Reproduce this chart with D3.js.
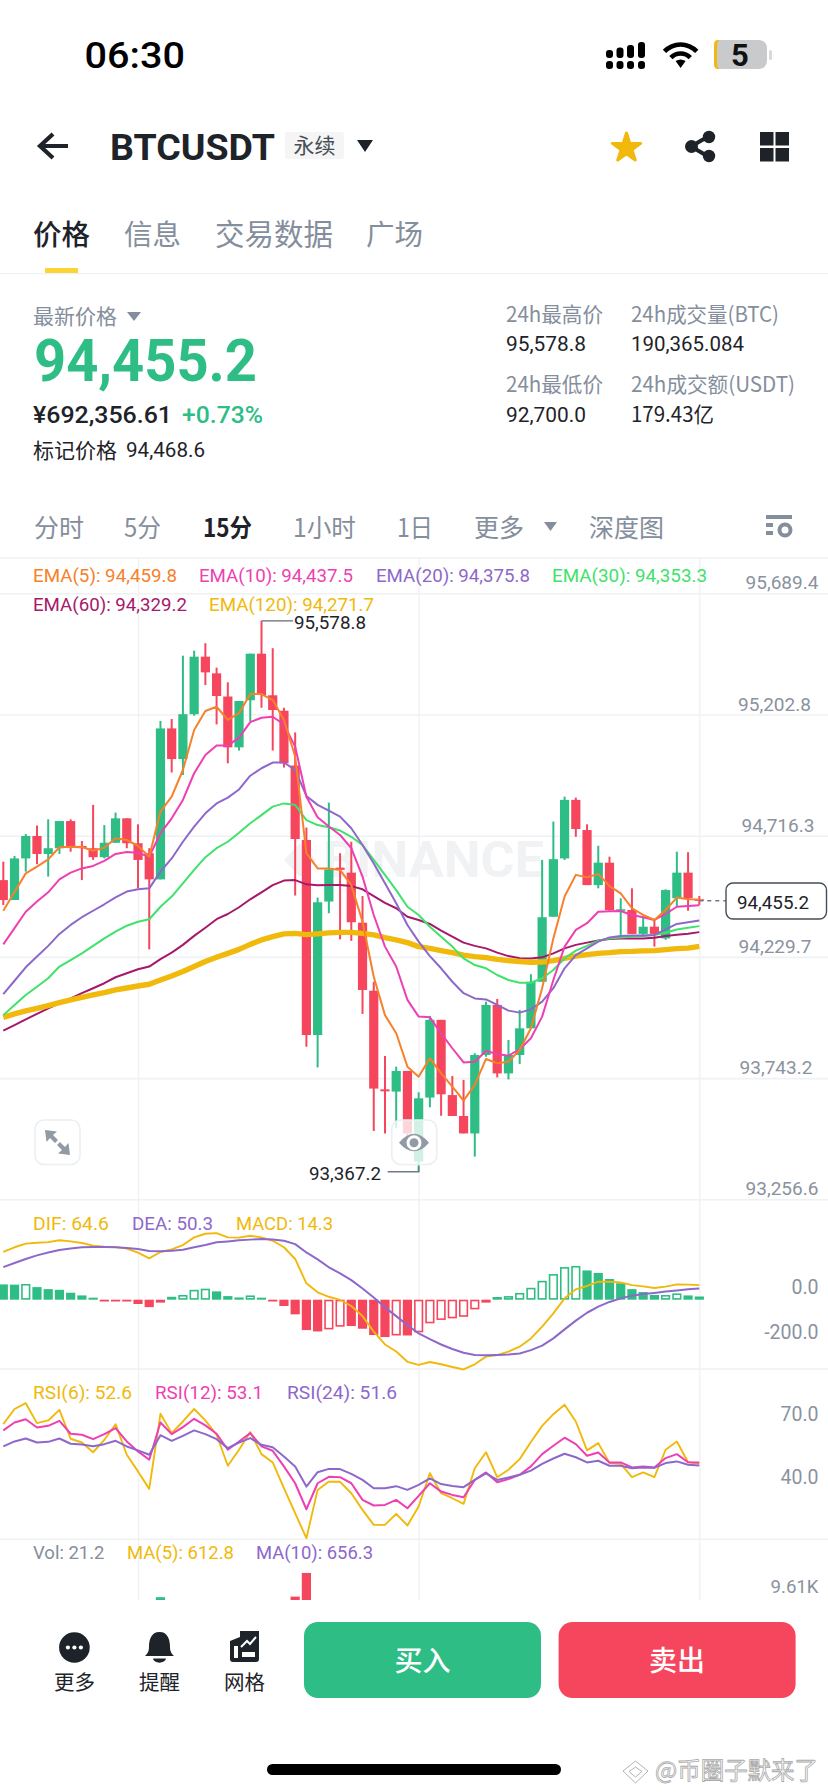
<!DOCTYPE html>
<html lang="zh">
<head>
<meta charset="utf-8">
<script src="https://cdn.jsdelivr.net/npm/d3@7"></script>
<style>
html,body{margin:0;padding:0;background:#fff;}
svg{display:block;}
</style>
</head>
<body>
<svg id="c" width="828" height="1792"></svg>
<script>
// ---------- data ----------
const opens=[94538,94458,94625,94715,94643,94666,94775,94675,94666,94630,
94688,94786,94686,94646,94541,95147,95024,95204,95435,95368,
95275,95071,95260,95447,95280,95218,94998,94699,93916,94452,
94588,94568,94367,94094,93698,93689,93772,93408,93665,93977,
93675,93591,93521,93836,94037,93762,93836,93943,94130,94391,
94625,94860,94739,94518,94608,94415,94418,94322,94351,94304,
94465,94568,94461];
const closes=[94458,94625,94715,94643,94666,94775,94672,94666,94630,94688,
94786,94686,94619,94541,95147,95024,95204,95435,95372,95277,
95071,95257,95447,95281,95221,95007,94703,93916,94449,94581,
94579,94369,94097,93701,93690,93772,93521,93662,93977,93678,
93591,93521,93836,94037,93762,93836,93943,94130,94389,94622,
94860,94743,94518,94608,94418,94421,94322,94351,94322,94498,
94568,94465,94455.2];
const highs=[94612,94635,94723,94757,94782,94775,94782,94695,94840,94759,
94809,94786,94762,94666,95177,95185,95439,95459,95489,95391,
95332,95257,95447,95578.8,95469,95230,95131,94749,94468,94849,
94646,94692,94474,94130,93832,93789,93772,93686,93993,93977,
93752,93736,93843,94050,94061,93896,94017,94160,94619,94773,
94873,94869,94762,94676,94632,94465,94505,94391,94378,94501,
94652,94650,94474];
const lows=[94438,94458,94572,94602,94552,94643,94652,94538,94619,94625,
94688,94666,94505,94260,94541,94970,94960,95198,95321,95163,
95007,95058,95174,95230,95058,94990,94476,93869,93786,94405,
94300,94294,94001,93531,93521,93542,93508,93367.2,93626,93592,
93591,93521,93428,93829,93746,93738,93800,93943,94130,94391,
94619,94712,94518,94505,94415,94318,94322,94311,94271,94298,
94431,94415,94438];
const ema5=[94415,94490,94565,94592,94621,94670,94672,94671,94656,94668,
94706,94699,94675,94632,94813,94873,94980,95141,95217,95234,
95181,95208,95285,95285,95261,95181,95034,94646,94585,94585,
94579,94518,94371,94150,93996,93923,93789,93749,93823,93762,
93709,93653,93716,93820,93803,93809,93856,93943,94104,94304,
94472,94559,94549,94563,94514,94485,94425,94398,94378,94418,
94468,94461,94459.8];
const ema10=[94280,94345,94411,94452,94489,94541,94568,94585,94595,94615,
94643,94651,94648,94632,94726,94786,94860,94967,95040,95078,
95078,95110,95172,95190,95194,95163,95074,94873,94790,94753,
94719,94666,94552,94398,94271,94191,94057,93990,93987,93923,
93863,93806,93809,93852,93840,93833,93859,93903,93990,94137,
94271,94338,94365,94411,94413,94414,94398,94389,94378,94402,
94431,94434,94437.5];
const ema20=[94080,94134,94188,94231,94274,94322,94358,94389,94415,94441,
94469,94492,94501,94505,94572,94625,94692,94753,94806,94846,
94869,94902,94957,94987,95010,95010,94980,94876,94840,94817,
94793,94746,94679,94605,94525,94445,94358,94291,94233,94184,
94130,94084,94063,94059,94037,94014,94006,94019,94050,94104,
94184,94237,94264,94291,94308,94314,94316,94316,94318,94340,
94362,94369,94375.8];
const ema30=[93996,94037,94077,94110,94144,94191,94217,94244,94274,94304,
94331,94355,94371,94381,94431,94472,94525,94579,94630,94666,
94692,94728,94766,94799,94833,94846,94840,94779,94759,94750,
94737,94712,94679,94619,94559,94498,94431,94398,94351,94311,
94271,94224,94197,94184,94157,94137,94126,94126,94144,94177,
94224,94255,94274,94295,94304,94308,94311,94314,94318,94327,
94340,94347,94353.3];
const ema60=[93934,93956,93979,94001,94023,94043,94063,94084,94104,94124,
94148,94164,94180,94191,94221,94247,94278,94314,94347,94381,
94402,94429,94461,94489,94518,94536,94538,94521,94517,94518,
94518,94514,94501,94474,94447,94425,94391,94378,94362,94335,
94311,94287,94274,94264,94247,94233,94224,94223,94228,94244,
94264,94278,94287,94296,94302,94304,94304,94304,94307,94314,
94319,94323,94329.2];
const ema120=[93987,94001,94013,94023,94034,94046,94057,94067,94077,94086,
94097,94105,94113,94120,94137,94153,94171,94191,94211,94228,
94244,94260,94280,94298,94311,94322,94324,94319,94322,94326,
94328,94328,94324,94318,94307,94298,94287,94271,94264,94255,
94247,94237,94231,94227,94220,94215,94211,94208,94209,94215,
94224,94233,94239,94244,94247,94251,94252,94254,94255,94259,
94263,94265,94271.7];
const dif=[213,233,249,253,256,264,259,252,240,236,
234,227,209,184,212,224,243,277,293,296,
277,276,284,277,262,233,181,73,33,13,
-1,-28,-73,-142,-199,-230,-276,-290,-277,-287,
-299,-310,-287,-253,-246,-231,-209,-172,-120,-61,
6,46,61,80,80,77,65,59,52,58,
68,67,64.6];
const dea=[145,163,181,197,210,221,228,233,234,234,
233,230,225,216,215,218,222,233,243,255,
259,264,267,270,268,262,247,210,179,144,
117,87,50,10,-34,-73,-113,-150,-175,-199,
-219,-236,-246,-247,-246,-244,-239,-224,-204,-172,
-132,-93,-58,-31,-10,6,18,25,30,36,
41,46,50.3];
const macd=[68,67,70,56,47,44,31,19,9,-6,
-6,-6,-19,-33,-13,13,21,44,49,37,
16,10,19,9,-6,-28,-65,-135,-141,-132,
-120,-117,-129,-157,-166,-159,-159,-145,-105,-90,
-83,-76,-43,-13,12,16,30,53,84,114,
145,150,130,119,92,73,47,34,21,21,
28,19,14.3];
const macdHollow=[2,16,17,18,22,29,30,35,37,38,39,40,41,42,45,46,47,48,49,50,51,59,60];
const rsi6=[71.5,78.8,81.6,72.0,73.3,78.4,64.5,62.7,58.0,64.0,
71.5,56.8,48.8,40.4,76.5,67.2,72.8,78.8,73.3,66.4,
51.5,59.2,67.7,57.1,53.1,40.7,28.7,16.7,39.9,43.9,
43.8,38.3,30.3,23.1,23.1,28.4,22.8,31.9,47.9,38.3,
35.9,33.2,50.3,58.0,46.0,49.6,54.7,62.9,70.7,76.3,
80.8,72.8,58.9,62.4,52.8,52.4,46.0,48.3,46.0,59.2,
63.2,53.2,52.6];
const rsi12=[68.5,72.3,73.9,69.9,70.7,73.1,66.9,66.4,64.3,66.7,
69.6,63.2,58.4,54.4,72.3,66.7,70.1,74.1,70.9,66.9,
59.2,63.2,67.2,60.8,58.7,51.2,43.1,30.6,43.1,46.2,
46.0,43.1,35.1,32.4,32.7,35.1,31.1,37.0,43.1,39.1,
37.5,36.4,44.7,48.3,43.6,45.1,47.2,51.2,57.1,61.1,
65.0,61.9,56.3,57.9,53.1,53.1,50.7,51.2,50.7,55.2,
57.1,53.2,53.1];
const rsi24=[60.8,63.2,64.6,62.7,63.0,64.6,62.1,61.7,60.9,61.9,
63.5,60.8,58.9,56.8,66.2,63.5,65.9,68.5,66.7,64.3,
60.0,62.7,64.8,61.6,60.4,56.0,51.2,41.5,48.4,50.0,
49.9,47.6,44.7,40.7,40.7,41.7,39.9,42.3,45.4,42.7,
41.8,41.2,44.7,47.9,44.7,45.9,47.2,49.2,52.4,55.0,
57.3,55.6,53.1,53.9,51.5,51.5,50.3,50.7,50.5,52.8,
53.6,52.0,51.6];
// only the volume bars that rise above the clipped edge of the panel are visible
const volIndex=[14,26,27];
const volValues=[9680,9730,11780];
const volSide=[1,-1,-1];
const priceTicks=[95689.4,95202.8,94716.3,94229.7,93743.2,93256.6];
const priceTickLabels=["95,689.4","95,202.8","94,716.3","94,229.7","93,743.2","93,256.6"];
const macdTicks=[0,-200];
const macdTickLabels=["0.0","-200.0"];
const rsiTicks=[70,40];
const rsiTickLabels=["70.0","40.0"];
const timeTicks=[12,37,62];
const lastPrice=94455.2, highIdx=23, lowIdx=37;

// ---------- colours & helpers ----------
const UP="#2ebd85",DOWN="#f6465d",DARK="#1e2329",GRAY="#848e9c",GRID="#f0f1f3",
  GOLD="#f0b90b",PURPLE="#8d68cb",PINK="#ee3fb3",ORANGE="#f7812a",LIME="#3fe26b",WINE="#a6196a";
const FONT="Roboto,'Noto Sans CJK SC',sans-serif", CJK="'Noto Sans CJK SC',Roboto,sans-serif";
const svg=d3.select("#c");
function t(g,x,y,s,o={}){
  const e=g.append("text").attr("x",x).attr("y",o.font===CJK?y-1.8:y).text(s)
    .attr("dominant-baseline","central")
    .attr("font-family",o.font||FONT).attr("font-size",o.size||19)
    .attr("font-weight",o.weight||400).attr("fill",o.color||GRAY)
    .attr("text-anchor",o.anchor||"start");
  if(o.w) e.attr("textLength",o.w).attr("lengthAdjust","spacingAndGlyphs");
  return e;
}
const idx=d3.range(opens.length);
const x=d3.scaleLinear().domain([0,62]).range([3.3,699.3]);
const yP=d3.scaleLinear().domain([95689.4,93256.6]).range([593.3,1199.3]);
const yM=d3.scaleLinear().domain([0,-200]).range([1299.7,1344.7]);
const yR=d3.scaleLinear().domain([70,40]).range([1427.3,1489.7]);
const yV=d3.scaleLinear().domain([0,9610]).range([1709,1598]);

// ---------- grid ----------
const grid=svg.append("g");
function hgrid(scale,vals){
  const a=grid.append("g").call(d3.axisRight(scale).tickValues(vals).tickSize(828).tickFormat(""));
  a.select(".domain").remove();
  a.selectAll("line").attr("stroke",GRID).attr("stroke-width",1.6);
}
hgrid(yP,priceTicks);
[558,1369,1539.3].forEach(v=>grid.append("line").attr("x1",0).attr("x2",828).attr("y1",v).attr("y2",v).attr("stroke",GRID).attr("stroke-width",1.6));
const vaxis=grid.append("g").attr("transform","translate(0,558)")
  .call(d3.axisBottom(x).tickValues(timeTicks).tickSize(1042).tickFormat(""));
vaxis.select(".domain").remove();
vaxis.selectAll("line").attr("stroke",GRID).attr("stroke-width",1.4);

// watermark
const wm=svg.append("g");
wm.append("path").attr("d","M300,843 L316,860 L300,877 L284,860 Z").attr("fill","#f1f2f4");
t(wm,323,860,"BINANCE",{size:50,weight:700,color:"#f1f2f4",w:221});

// ---------- candles ----------
const cg=svg.append("g");
const col=i=>closes[i]>=opens[i]?UP:DOWN;
cg.selectAll("line").data(idx).join("line")
  .attr("x1",i=>x(i)).attr("x2",i=>x(i)).attr("y1",i=>yP(highs[i])).attr("y2",i=>yP(lows[i]))
  .attr("stroke",col).attr("stroke-width",2);
cg.selectAll("rect").data(idx).join("rect")
  .attr("x",i=>x(i)-4.6).attr("width",9.2)
  .attr("y",i=>yP(Math.max(opens[i],closes[i])))
  .attr("height",i=>Math.max(1.6,Math.abs(yP(opens[i])-yP(closes[i]))))
  .attr("fill",col);

// ---------- EMA lines ----------
function series(scale,arr,color,w){
  svg.append("path").datum(arr)
    .attr("d",d3.line().x((d,i)=>x(i)).y(d=>scale(d)))
    .attr("fill","none").attr("stroke",color).attr("stroke-width",w).attr("stroke-linejoin","round");
}
series(yP,ema60,WINE,2);
series(yP,ema120,GOLD,5.4);
series(yP,ema30,LIME,2);
series(yP,ema20,PURPLE,2);
series(yP,ema10,PINK,2);
series(yP,ema5,ORANGE,2);

// legends
const lg=svg.append("g");
t(lg,33,575,"EMA(5): 94,459.8",{color:ORANGE,w:144});
t(lg,199,575,"EMA(10): 94,437.5",{color:PINK,w:154});
t(lg,376,575,"EMA(20): 94,375.8",{color:PURPLE,w:154});
t(lg,552,575,"EMA(30): 94,353.3",{color:LIME,w:155});
t(lg,33,604,"EMA(60): 94,329.2",{color:WINE,w:154});
t(lg,209,604,"EMA(120): 94,271.7",{color:GOLD,w:165});
t(lg,33,1223,"DIF: 64.6",{color:GOLD,w:76});
t(lg,132,1223,"DEA: 50.3",{color:PURPLE,w:81});
t(lg,236,1223,"MACD: 14.3",{color:GOLD,w:97});
t(lg,33,1392,"RSI(6): 52.6",{color:GOLD,w:99});
t(lg,155,1392,"RSI(12): 53.1",{color:PINK,w:108});
t(lg,287,1392,"RSI(24): 51.6",{color:PURPLE,w:110});
t(lg,33,1552,"Vol: 21.2",{w:71.5});
t(lg,127,1552,"MA(5): 612.8",{color:GOLD,w:107});
t(lg,256,1552,"MA(10): 656.3",{color:PURPLE,w:117});

// axis labels
const axl=svg.append("g");
const priceLabelRight=[818.5,811,814.5,811.5,812.5,818.5];
priceTicks.forEach((v,i)=>t(axl,priceLabelRight[i],yP(v)-10.5,priceTickLabels[i],{anchor:"end",w:73,color:"#8a929e"}));
macdTicks.forEach((v,i)=>t(axl,818.5,yM(v)-12.5,macdTickLabels[i],{anchor:"end",size:19.5,color:"#8a929e"}));
rsiTicks.forEach((v,i)=>t(axl,818.5,yR(v)-12.5,rsiTickLabels[i],{anchor:"end",size:19.5,color:"#8a929e"}));
t(axl,818.5,1586,"9.61K",{anchor:"end",size:19,w:48,color:"#8a929e"});

// high / low callouts
const cl=svg.append("g");
cl.append("line").attr("x1",x(highIdx)).attr("x2",293).attr("y1",yP(highs[highIdx])).attr("y2",yP(highs[highIdx])).attr("stroke","#707a8a").attr("stroke-width",1.4);
t(cl,294,622,"95,578.8",{color:DARK,w:72});

// overlay buttons on the chart
const ov=svg.append("g");
function ovBtn(x0){ov.append("rect").attr("x",x0).attr("y",1120).attr("width",45).attr("height",44.5).attr("rx",9)
  .attr("fill","#fff").attr("fill-opacity",.78).attr("stroke","#eceef0").attr("stroke-width",1.6);}
ovBtn(35);ovBtn(391.7);
ov.append("path").attr("d","M45,1130 L57,1131.5 L53,1135 L58,1140 L55,1143 L50,1138 L46.5,1142 Z M70,1155 L58,1153.5 L62,1150 L57,1145 L60,1142 L65,1147 L68.5,1143 Z").attr("fill","#929aa5");
ov.append("path").attr("d","M399,1142.7 Q414,1125 429,1142.7 Q414,1160 399,1142.7 Z").attr("fill","#929aa5");
ov.append("circle").attr("cx",414).attr("cy",1142.7).attr("r",7.5).attr("fill","#fff");
ov.append("circle").attr("cx",414).attr("cy",1142.7).attr("r",4.5).attr("fill","#929aa5");
cl.raise();
cl.append("path").attr("d",`M387.7,${yP(lows[lowIdx])} H${x(lowIdx)} V${yP(lows[lowIdx])-5}`).attr("fill","none").attr("stroke","#707a8a").attr("stroke-width",1.4);
t(cl,309,1173,"93,367.2",{color:DARK,w:72});

// current price tag
const tag=svg.append("g");
tag.append("line").attr("x1",x(62)).attr("x2",726).attr("y1",yP(lastPrice)).attr("y2",yP(lastPrice)).attr("stroke","#707a8a").attr("stroke-width",1.4).attr("stroke-dasharray","4 4");
tag.append("rect").attr("x",726).attr("y",883).attr("width",100.5).attr("height",36).attr("rx",7).attr("fill","#fff").attr("stroke","#474d57").attr("stroke-width",1.4);
t(tag,737,902,"94,455.2",{color:DARK,w:72});

// ---------- MACD ----------
const mg=svg.append("g");
const isHollow=i=>macdHollow.includes(i);
const mcol=i=>macd[i]>=0?UP:DOWN;
mg.selectAll("rect").data(idx).join("rect")
  .attr("x",i=>x(i)-4.6+(isHollow(i)?.8:0)).attr("width",i=>isHollow(i)?7.6:9.2)
  .attr("y",i=>yM(Math.max(0,macd[i]))+(isHollow(i)?.8:0))
  .attr("height",i=>Math.max(1.8,Math.abs(yM(macd[i])-yM(0))-(isHollow(i)?1.6:0)))
  .attr("fill",i=>isHollow(i)?"#fff":mcol(i))
  .attr("stroke",i=>isHollow(i)?mcol(i):"none").attr("stroke-width",1.6);
series(yM,dif,GOLD,1.9);
series(yM,dea,PURPLE,2);

// ---------- RSI ----------
series(yR,rsi6,GOLD,1.9);
series(yR,rsi12,PINK,2);
series(yR,rsi24,PURPLE,2);

// ---------- volume (clipped by the footer) ----------
svg.append("g").selectAll("rect").data(volIndex).join("rect")
  .attr("x",(d)=>x(d)-4.6).attr("width",9.2)
  .attr("y",(d,i)=>yV(volValues[i])).attr("height",(d,i)=>yV(0)-yV(volValues[i]))
  .attr("fill",(d,i)=>volSide[i]>0?UP:DOWN);

// ---------- app chrome ----------
const ui=svg.append("g");
ui.append("rect").attr("x",0).attr("y",0).attr("width",828).attr("height",557).attr("fill","#fff").lower();
ui.append("rect").attr("x",0).attr("y",1600).attr("width",828).attr("height",192).attr("fill","#fff");
// status bar
t(ui,84.5,55,"06:30",{size:37,weight:500,color:"#000",w:100.5});
const sigX=[606,616.5,627,638],sigTop=[50,47.5,45,42];
sigX.forEach((sx,i)=>{
  ui.append("rect").attr("x",sx).attr("y",sigTop[i]).attr("width",7).attr("height",58-sigTop[i]).attr("rx",3).attr("fill","#000");
  ui.append("rect").attr("x",sx).attr("y",61).attr("width",7).attr("height",8).attr("rx",3).attr("fill","#000");
});
const wf=ui.append("g").attr("transform","translate(680.6,67)");
[[22.5,4.6],[13.5,4.6]].forEach(([r,w])=>wf.append("path")
  .attr("d",d3.arc().innerRadius(r-w/2).outerRadius(r+w/2).startAngle(-0.8).endAngle(0.8)()).attr("fill","#000"));
wf.append("path").attr("d","M-5,-6 Q0,-9 5,-6 L0,1 Z").attr("fill","#000");
ui.append("rect").attr("x",714).attr("y",40).attr("width",53).attr("height",29).attr("rx",8).attr("fill","#c9cacc");
ui.append("path").attr("d","M722,40 H718 Q714,40 714,45 V64 Q714,69 718,69 H722 Q717,69 717,64 V45 Q717,40 722,40 Z").attr("fill",GOLD);
ui.append("rect").attr("x",769).attr("y",50).attr("width",3).attr("height",10).attr("rx",1.5).attr("fill","#d8d9db");
t(ui,740,55,"5",{size:31,weight:700,color:"#111",anchor:"middle"});
// header
ui.append("path").attr("d","M68,146 H41 M53,134 L40,146 L53,158").attr("fill","none").attr("stroke",DARK).attr("stroke-width",4.2);
t(ui,110,147,"BTCUSDT",{size:37,weight:700,color:DARK,w:165});
ui.append("rect").attr("x",285).attr("y",132).attr("width",59).attr("height",27).attr("rx",3).attr("fill","#f5f5f5");
t(ui,314.5,146,"永续",{font:CJK,size:21,color:"#474d57",anchor:"middle"});
ui.append("path").attr("d","M357,140 H373 L365,152 Z").attr("fill",DARK);
ui.append("path").attr("transform","translate(626.5,148)").attr("d",d3.symbol(d3.symbolStar,250)()).attr("fill",GOLD).attr("stroke",GOLD).attr("stroke-width",3).attr("stroke-linejoin","round");
ui.append("path").attr("d","M709,136 L691,146.5 L709,157").attr("fill","none").attr("stroke",DARK).attr("stroke-width",4);
[[709,137,6.2],[691.5,146.5,6.5],[709,156,6.2]].forEach(([a,b,r])=>ui.append("circle").attr("cx",a).attr("cy",b).attr("r",r).attr("fill",DARK));
[[760,132],[775.5,132],[760,148],[775.5,148]].forEach(([a,b])=>ui.append("rect").attr("x",a).attr("y",b).attr("width",13.5).attr("height",13.5).attr("fill",DARK));
// tabs
t(ui,33,234,"价格",{font:CJK,size:28.5,weight:500,color:DARK});
t(ui,124,234,"信息",{font:CJK,size:28.5,color:GRAY});
t(ui,215,234,"交易数据",{font:CJK,size:29.5,color:GRAY});
t(ui,366,234,"广场",{font:CJK,size:28.5,color:GRAY});
ui.append("rect").attr("x",45).attr("y",268).attr("width",33).attr("height",5).attr("fill","#fcd535");
ui.append("line").attr("x1",0).attr("x2",828).attr("y1",273.6).attr("y2",273.6).attr("stroke",GRID).attr("stroke-width",1.4);
// price block
t(ui,33,317,"最新价格",{font:CJK,size:21});
ui.append("path").attr("d","M127,312 H141 L134,321 Z").attr("fill",GRAY);
t(ui,34,360,"94,455.2",{size:60,weight:700,color:UP,w:223});
t(ui,33,415,"¥692,356.61",{size:24,weight:500,color:DARK,w:139});
t(ui,182,415,"+0.73%",{size:24,weight:500,color:UP,w:81});
t(ui,33,451,"标记价格",{font:CJK,size:21,color:DARK});
t(ui,126,450,"94,468.6",{size:21,color:DARK,w:79});
t(ui,506,315,"24h最高价",{font:CJK,size:21,w:97});
t(ui,631,315,"24h成交量(BTC)",{font:CJK,size:21,w:148});
t(ui,506,344,"95,578.8",{size:21,color:DARK,w:80});
t(ui,631,344,"190,365.084",{size:21,color:DARK,w:113});
t(ui,506,385,"24h最低价",{font:CJK,size:21,w:97});
t(ui,631,385,"24h成交额(USDT)",{font:CJK,size:21,w:164});
t(ui,506,415,"92,700.0",{size:21,color:DARK,w:80});
t(ui,631,415,"179.43亿",{font:CJK,size:21,color:DARK,w:83});
// interval row
t(ui,34,528,"分时",{font:CJK,size:25});
t(ui,124,528,"5分",{font:CJK,size:25,w:37});
t(ui,203,528,"15分",{font:CJK,size:25,weight:700,color:DARK,w:49});
t(ui,293,528,"1小时",{font:CJK,size:25,w:63});
t(ui,397,528,"1日",{font:CJK,size:25,w:36});
t(ui,474,528,"更多",{font:CJK,size:25});
ui.append("path").attr("d","M544,522 H557 L550.5,531 Z").attr("fill",GRAY);
t(ui,589,528,"深度图",{font:CJK,size:25});
ui.append("path").attr("d","M766,515 H792 V519 H766 Z M766,523 H773 V527 H766 Z M766,531 H773 V535 H766 Z").attr("fill",GRAY);
ui.append("circle").attr("cx",785).attr("cy",530).attr("r",5.5).attr("fill","none").attr("stroke",GRAY).attr("stroke-width",4);
// footer
ui.append("circle").attr("cx",74.4).attr("cy",1647.5).attr("r",15.3).attr("fill",DARK);
[-6.5,0,6.5].forEach(d=>ui.append("circle").attr("cx",74.4+d).attr("cy",1647.5).attr("r",2.1).attr("fill","#fff"));
t(ui,74.5,1683,"更多",{font:CJK,size:20.5,color:DARK,anchor:"middle"});
ui.append("path").attr("d","M159.5,1632 C151,1632 149,1640 149,1647 C149,1652 147,1654 145,1656 H174 C172,1654 170,1652 170,1647 C170,1640 168,1632 159.5,1632 Z M153,1658.5 H166 C165,1664 154,1664 153,1658.5 Z").attr("fill",DARK);
t(ui,159.5,1683,"提醒",{font:CJK,size:20.5,color:DARK,anchor:"middle"});
ui.append("path").attr("d","M230,1641 L240,1637 V1631 H259 V1659 Q259,1662 256,1662 H233 Q230,1662 230,1659 Z").attr("fill",DARK);
ui.append("rect").attr("x",234).attr("y",1646).attr("width",4).attr("height",12).attr("fill","#fff");
ui.append("rect").attr("x",242).attr("y",1652).attr("width",13).attr("height",5).attr("fill","#fff");
ui.append("path").attr("d","M241,1647 L247,1641 L250,1644 L256,1637").attr("fill","none").attr("stroke","#fff").attr("stroke-width",2);
t(ui,244.5,1683,"网格",{font:CJK,size:20.5,color:DARK,anchor:"middle"});
ui.append("rect").attr("x",304).attr("y",1622).attr("width",237).attr("height",76).attr("rx",14).attr("fill",UP);
ui.append("rect").attr("x",558.6).attr("y",1622).attr("width",237).attr("height",76).attr("rx",14).attr("fill",DOWN);
t(ui,422.5,1661,"买入",{font:CJK,size:28,weight:500,color:"#fff",anchor:"middle"});
t(ui,677,1661,"卖出",{font:CJK,size:28,weight:500,color:"#fff",anchor:"middle"});
ui.append("rect").attr("x",267).attr("y",1764).attr("width",294).attr("height",11).attr("rx",5.5).attr("fill","#000");
// corner watermark
ui.append("path").attr("d","M635.5,1761 L648,1771 L635.5,1783 L623,1771 Z M635.5,1767 L642,1771.5 L635.5,1777 L629,1771.5 Z").attr("fill","#fff").attr("stroke","#b4b4b4").attr("stroke-width",1);
t(ui,655,1770,"@币圈子默来了",{font:CJK,size:24,color:"#fff",w:163}).attr("stroke","#a8a8a8").attr("stroke-width",.8);
</script>
</body>
</html>
